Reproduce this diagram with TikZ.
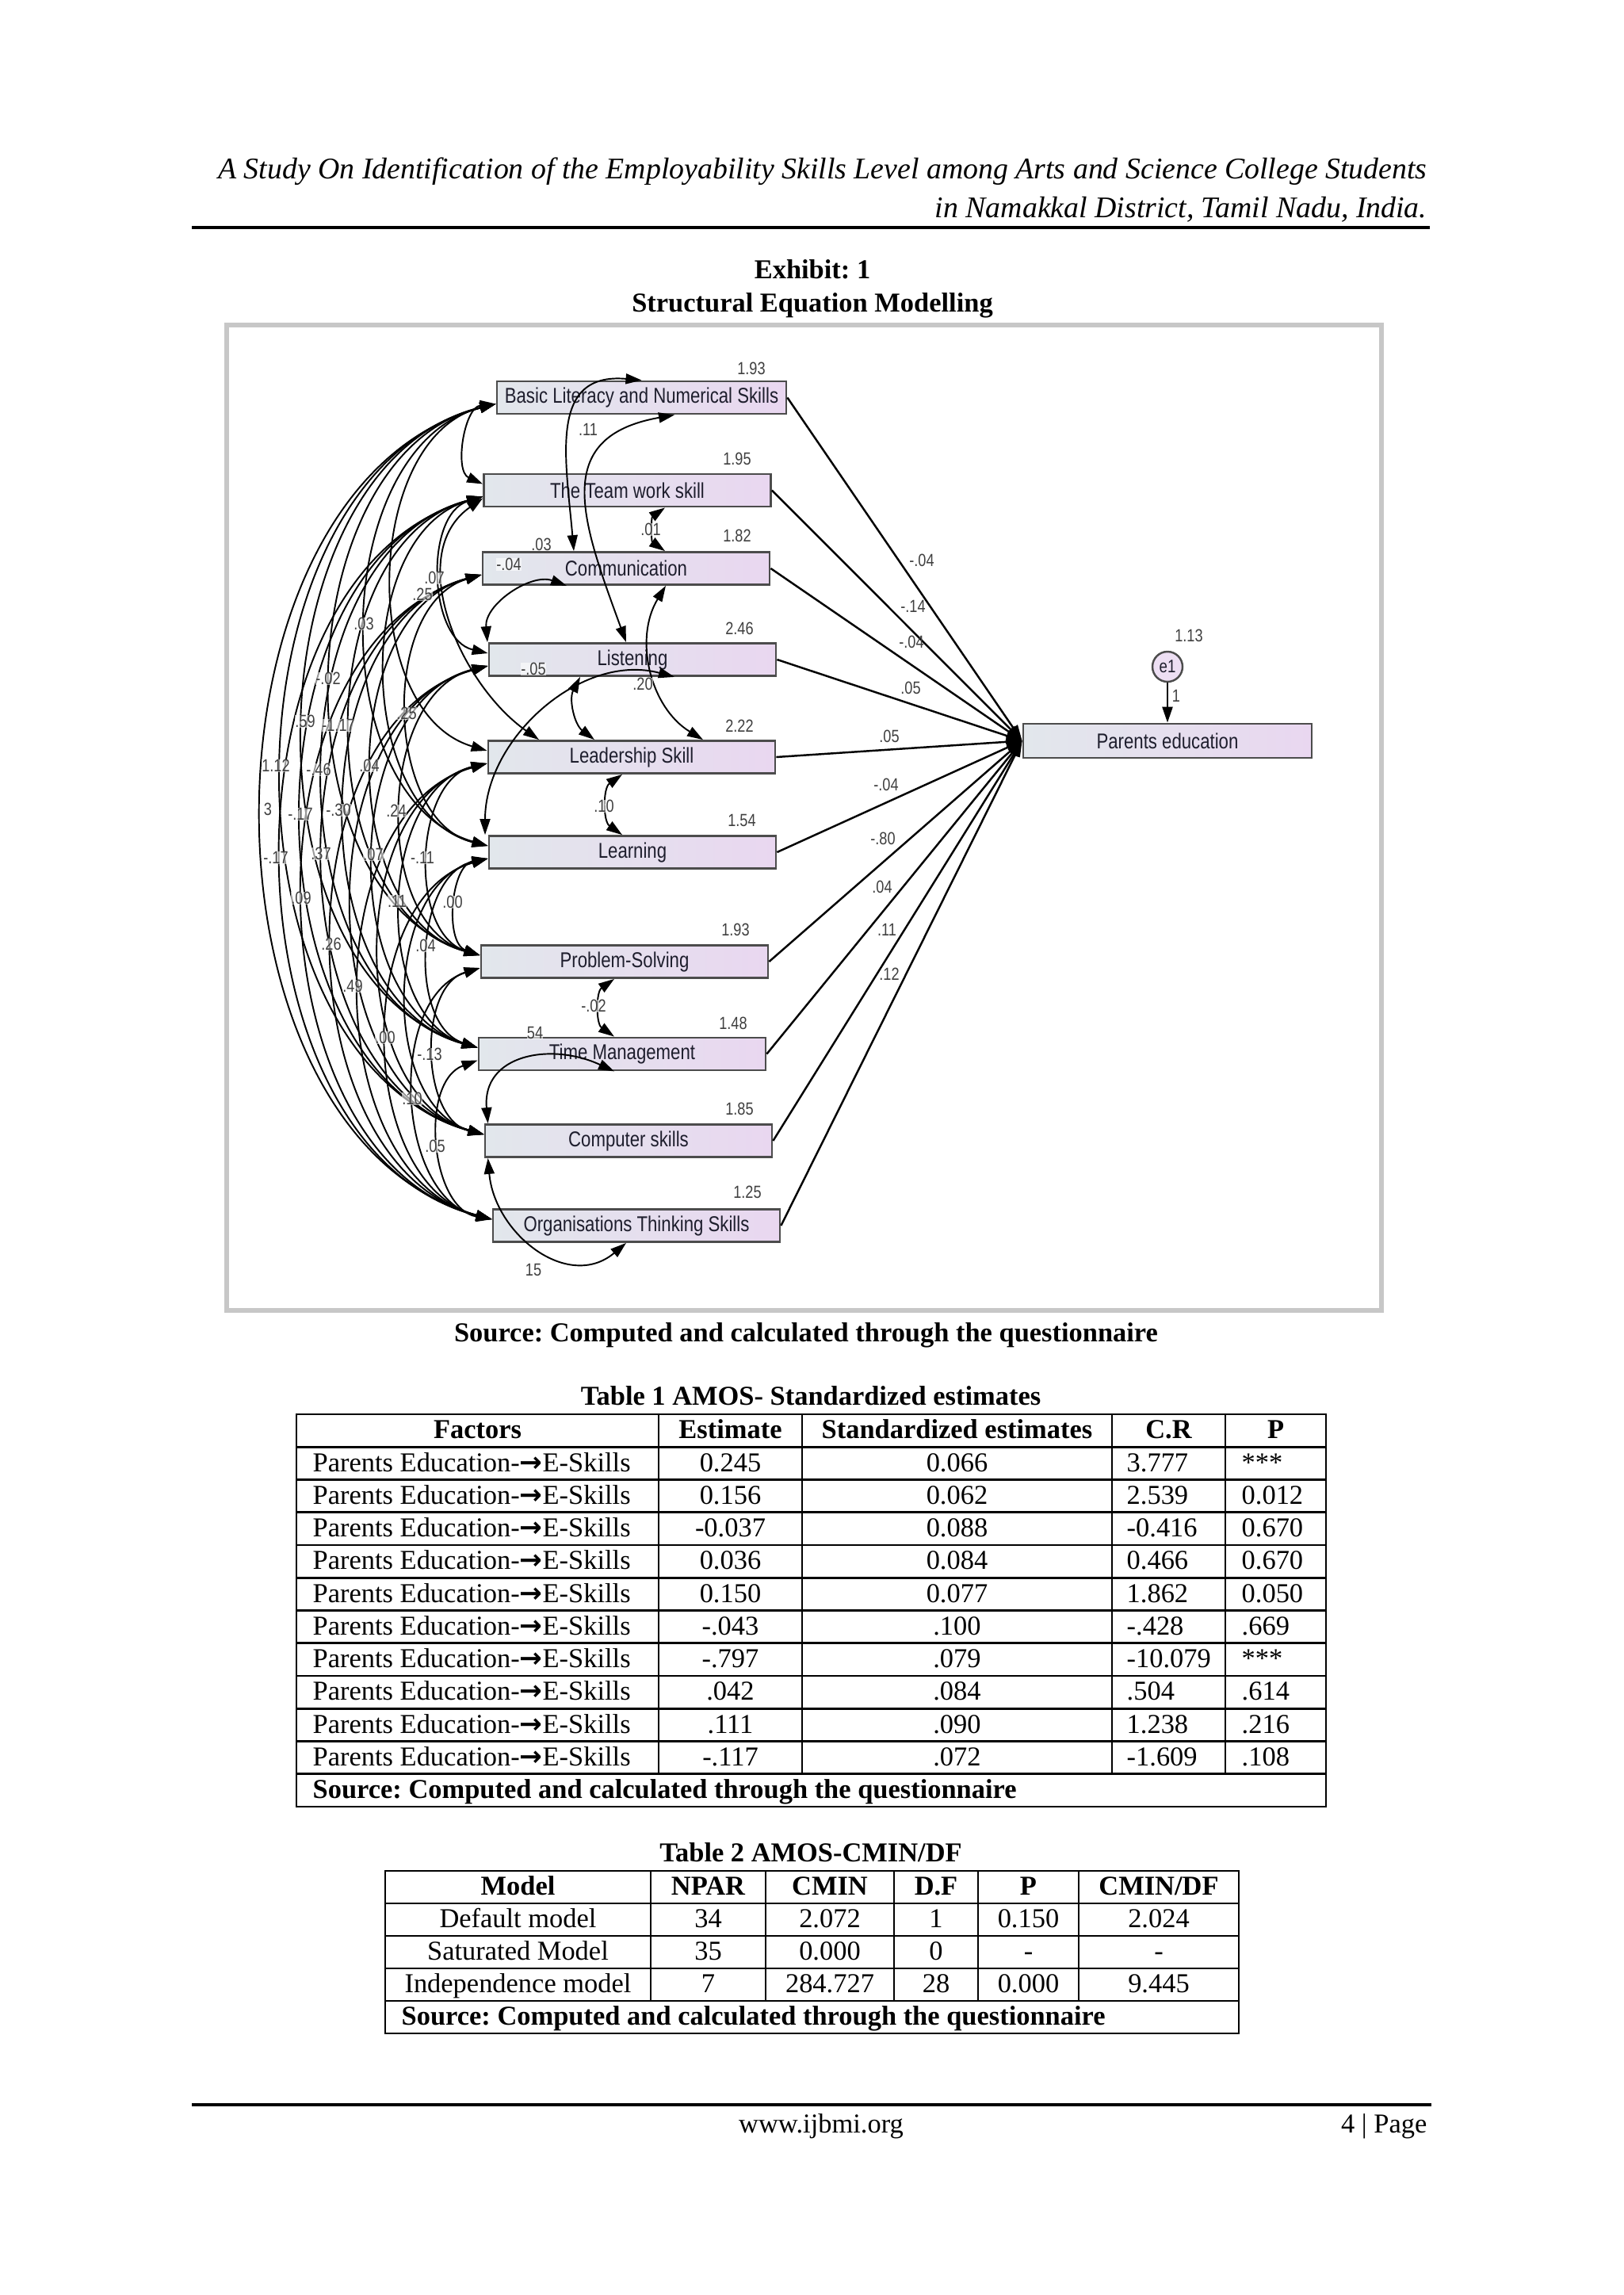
\documentclass[tikz,border=0pt]{standalone}
\usepackage{fontspec}
\setmainfont{Liberation Serif}
\newfontfamily\amosfont[FakeStretch=0.82]{Liberation Sans}
\newfontfamily\arrowfont{DejaVu Sans}
\usetikzlibrary{arrows.meta}
\frenchspacing

\definecolor{boxl}{RGB}{226,231,236}
\definecolor{boxr}{RGB}{233,215,240}
\definecolor{amostext}{RGB}{30,30,45}

\tikzset{
  var/.style={draw=black!70, line width=0.8pt, left color=boxl, right color=boxr,
    minimum width=3.62cm, minimum height=0.41cm, inner sep=0pt, text=amostext,
    font=\amosfont\fontsize{7.7}{8}\selectfont},
  num/.style={inner sep=0pt, text=black!75, font=\amosfont\fontsize{6.3}{7}\selectfont},
  cov/.style={line width=0.55pt, {Triangle[length=2mm,width=1.3mm]}-{Triangle[length=2mm,width=1.3mm]}},
  reg/.style={line width=0.7pt, -{Triangle[length=2mm,width=1.3mm]}},
  body/.style={inner sep=0pt, text height=0.245cm, text depth=0.07cm, font=\fontsize{9.8}{11}\selectfont},
  bodyb/.style={inner sep=0pt, text height=0.245cm, text depth=0.07cm, font=\bfseries\fontsize{9.8}{11}\selectfont},
  tline/.style={line width=0.8pt}
}
\newcommand{\pearrow}{Parents Education-{\arrowfont\bfseries →}E-Skills}

\begin{document}
\begin{tikzpicture}
  \useasboundingbox (0,0) rectangle (20.48,-28.95);
  \fill[white] (0,0) rectangle (20.48,-28.95);

  % page header
  \node[anchor=east, inner sep=0pt, font=\itshape\fontsize{10.76}{12}\selectfont] (hd1) at (18.01,-2.16)
    {A Study On Identification of the Employability Skills Level among Arts and Science College Students};
  \node[anchor=east, inner sep=0pt, font=\itshape\fontsize{10.76}{12}\selectfont] (hd2) at (18.01,-2.64)
    {in Namakkal District, Tamil Nadu, India.};
  \draw[line width=1pt] (2.42,-2.87) -- (18.04,-2.87);
  \node[bodyb] (ex) at (10.25,-3.43) {Exhibit: 1};
  \node[bodyb] (exname) at (10.25,-3.85) {Structural Equation Modelling};

  % the AMOS diagram
  \draw[black!22, line width=1.6pt] (2.86,-4.10) rectangle (17.43,-16.53);

  \node[var, minimum width=3.65cm] (v1) at (8.095,-5.015) {Basic Literacy and Numerical Skills};
  \node[var] (v2) at (7.915,-6.185) {The Team work skill};
  \node[var] (v3) at (7.90,-7.17) {Communication};
  \node[var] (v4) at (7.98,-8.32) {Listening};
  \node[var] (v5) at (7.97,-9.55) {Leadership Skill};
  \node[var] (v6) at (7.98,-10.75) {Learning};
  \node[var] (v7) at (7.88,-12.13) {Problem-Solving};
  \node[var] (v8) at (7.85,-13.295) {Time Management};
  \node[var] (v9) at (7.93,-14.39) {Computer skills};
  \node[var] (v10) at (8.03,-15.46) {Organisations Thinking Skills};
  \node[var, minimum width=3.64cm, minimum height=0.43cm] (pe) at (14.73,-9.345) {Parents education};
  \node[circle, draw=black!70, line width=0.7pt, fill=boxr!80, minimum size=0.38cm, inner sep=0pt,
    text=amostext, font=\amosfont\fontsize{6.5}{7}\selectfont] (e1) at (14.73,-8.41) {e1};
  \draw[reg] (e1) -- (pe);
  \node[num] (e1w) at (14.84,-8.78) {1};
  \node[num] (e1v) at (15.0,-8.02) {1.13};

  \foreach \t/\x/\y [count=\k] in {1.93/9.48/4.65, 1.95/9.30/5.79, 1.82/9.30/6.76, 2.46/9.33/7.93,
      2.22/9.33/9.16, 1.54/9.36/10.35, 1.93/9.28/11.73, 1.48/9.25/12.91, 1.85/9.33/13.99, 1.25/9.43/15.04}
    \node[num] (var\k) at (\x,-\y) {\t};

  \foreach \i in {1,...,10}
    \draw[reg] (v\i.east) -- (pe.west);
  \foreach \t/\x/\y [count=\k] in {-.04/11.63/7.07, -.14/11.52/7.65, -.04/11.50/8.10, .05/11.49/8.68,
      .05/11.22/9.29, -.04/11.18/9.90, -.80/11.14/10.58, .04/11.13/11.19, .11/11.19/11.73, .12/11.22/12.29}
    \node[num] (b\k) at (\x,-\y) {\t};

  \foreach \a/\b in {1/2,1/5,1/6,1/7,1/8,1/9,1/10,2/4,2/6,2/7,2/8,2/9,2/10,3/6,3/7,3/8,3/9,3/10,
      4/7,4/8,4/9,4/10,5/7,5/8,5/9,5/10,6/7,6/8,6/9,6/10,7/9,7/10,8/10}
    \draw[cov] ([yshift=-0.8mm]v\a.west) to[bend right=75] ([yshift=0.8mm]v\b.west);

  \draw[cov] ([xshift=4.75mm]v2.south) to[bend right=55] ([xshift=4.9mm]v3.north);
  \draw[cov] ([xshift=-1.2mm]v5.south) to[bend right=55] ([xshift=-1.3mm]v6.north);
  \draw[cov] ([xshift=-1.3mm]v7.south) to[bend right=55] ([xshift=-1mm]v8.north);
  \draw[cov] ([xshift=0.5mm]v9.north west) to[out=95,in=155,looseness=1.3] ([xshift=-1mm]v8.south);
  \draw[cov] ([xshift=0.5mm]v9.south west) to[out=-85,in=-140,looseness=1.2] ([xshift=-1.3mm]v10.south);
  \draw[cov] (v1.north) to[out=175,in=95,looseness=1.3] ([xshift=-6.6mm]v3.north);
  \draw[cov] ([xshift=4.15mm]v1.south) to[out=190,in=110,looseness=1.4] ([xshift=-0.8mm]v4.north);
  \draw[cov] ([xshift=-7.5mm]v3.south) to[out=160,in=95] ([xshift=-18.3mm]v4.north);
  \draw[cov] ([xshift=5.3mm]v4.south) to[out=165,in=90] ([xshift=-18.6mm]v6.north);
  \draw[cov] ([xshift=-6.6mm]v4.south) to[bend right=40] ([xshift=-4.7mm]v5.north);
  \draw[cov] ([xshift=5mm]v3.south) to[bend right=45] ([xshift=9mm]v5.north);
  \draw[cov] ([yshift=-1mm]v2.west) to[out=215,in=145] ([xshift=-11.7mm]v5.north);

  \foreach \t/\x/\y [count=\k] in {.11/7.42/5.42, .03/6.83/6.87, -.04/6.42/7.12, .07/5.48/7.29,
      .25/5.33/7.50, -.05/6.73/8.44, .20/8.11/8.63, .03/4.59/7.87, -.02/4.14/8.56, .25/5.13/9.00,
      .59/3.85/9.10, -1.17/4.27/9.15, 1.12/3.48/9.66, -.46/4.02/9.71, .04/4.66/9.66, 3/3.38/10.21,
      -.17/3.79/10.27, -.30/4.27/10.22, .24/5.00/10.23, -.17/3.48/10.82, .37/4.05/10.77,
      .07/4.71/10.78, -.11/5.33/10.82, .09/3.80/11.33, .11/5.01/11.37, .00/5.71/11.38,
      .26/4.18/11.91, .04/5.37/11.93, .49/4.45/12.44, .00/4.86/13.09, -.13/5.42/13.30,
      .10/5.20/13.86, .05/5.49/14.46, .01/8.21/6.68, .10/7.62/10.17, -.02/7.49/12.69,
      54/6.75/13.03, 15/6.73/16.02}
    \node[num, fill=white, fill opacity=0.6, text opacity=1] (c\k) at (\x,-\y) {\t};

  \node[bodyb] (src) at (10.17,-16.84) {Source: Computed and calculated through the questionnaire};

  % table 1
  \node[bodyb] (tab1) at (10.23,-17.64) {Table 1 AMOS- Standardized estimates};
  \foreach \k in {0,...,12}
    \draw[tline] (3.74,{-17.84-\k*0.4125}) -- (16.73,{-17.84-\k*0.4125});
  \foreach \x in {8.31,10.12,14.03,15.46}
    \draw[tline] (\x,-17.84) -- (\x,-22.375);
  \draw[tline] (3.74,-17.84) rectangle (16.73,-22.79);
  \node[bodyb] (h1) at (6.025,-18.06) {Factors};
  \node[bodyb] (h2) at (9.215,-18.06) {Estimate};
  \node[bodyb] (h3) at (12.075,-18.06) {Standardized estimates};
  \node[bodyb] (h4) at (14.745,-18.06) {C.R};
  \node[bodyb] (h5) at (16.095,-18.06) {P};
  \foreach \e/\s/\c/\p [count=\r] in {0.245/0.066/3.777/***, 0.156/0.062/2.539/0.012,
      -0.037/0.088/-0.416/0.670, 0.036/0.084/0.466/0.670, 0.150/0.077/1.862/0.050,
      -.043/.100/-.428/.669, -.797/.079/-10.079/***, .042/.084/.504/.614,
      .111/.090/1.238/.216, -.117/.072/-1.609/.108}
  {
    \pgfmathsetmacro{\ry}{-18.06-\r*0.4125}
    \node[body, anchor=west] (fac\r) at (3.94,\ry) {\pearrow};
    \node[body] (est\r) at (9.215,\ry) {\e};
    \node[body] (std\r) at (12.075,\ry) {\s};
    \node[body, anchor=west] (cr\r) at (14.21,\ry) {\c};
    \node[body, anchor=west] (p\r) at (15.66,\ry) {\p};
  }
  \node[bodyb, anchor=west] (src1) at (3.94,-22.60) {Source: Computed and calculated through the questionnaire};

  % table 2
  \node[bodyb] (tab2) at (10.23,-23.40) {Table 2 AMOS-CMIN/DF};
  \foreach \k in {0,...,5}
    \draw[tline] (4.86,{-23.60-\k*0.41}) -- (15.63,{-23.60-\k*0.41});
  \foreach \x in {8.21,9.66,11.28,12.34,13.61}
    \draw[tline] (\x,-23.60) -- (\x,-25.24);
  \draw[tline] (4.86,-23.60) rectangle (15.63,-25.65);
  \foreach \t/\x [count=\k] in {Model/6.535, NPAR/8.935, CMIN/10.47, D.F/11.81, P/12.975, CMIN\slash DF/14.62}
    \node[bodyb] (hh\k) at (\x,-23.82) {\t};
  \foreach \m/\n/\c/\d/\p/\q [count=\r] in {Default model/34/2.072/1/0.150/2.024,
      Saturated Model/35/0.000/0/-/-, Independence model/7/284.727/28/0.000/9.445}
  {
    \pgfmathsetmacro{\ry}{-23.82-\r*0.41}
    \node[body] (mod\r) at (6.535,\ry) {\m};
    \node[body] (npar\r) at (8.935,\ry) {\n};
    \node[body] (cmin\r) at (10.47,\ry) {\c};
    \node[body] (df\r) at (11.81,\ry) {\d};
    \node[body] (pp\r) at (12.975,\ry) {\p};
    \node[body] (cd\r) at (14.62,\ry) {\q};
  }
  \node[bodyb, anchor=west] (src2) at (5.06,-25.46) {Source: Computed and calculated through the questionnaire};

  % footer
  \draw[line width=1pt] (2.42,-26.55) -- (18.06,-26.55);
  \node[body] (web) at (10.36,-26.82) {www.ijbmi.org};
  \node[body, anchor=east] (pg) at (18.01,-26.82) {4 | Page};
\end{tikzpicture}
\end{document}
